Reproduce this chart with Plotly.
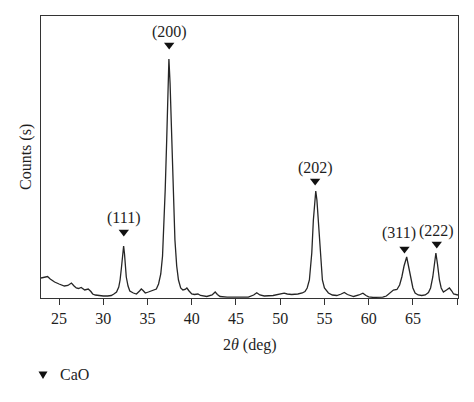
import plotly.graph_objects as go

# XRD pattern (2theta in degrees, counts in arbitrary units)
two_theta = [22.96, 23.3, 23.7, 24.0, 24.5, 25.0, 25.6, 26.0, 26.4, 26.7, 26.95, 27.2, 27.5, 27.9,
             28.3, 28.6, 28.8, 29.1, 29.4, 30.0, 30.5, 30.9, 31.2, 31.5, 31.75, 31.9, 32.05, 32.2,
             32.3, 32.4, 32.5, 32.6, 32.8, 33.0, 33.4, 33.75, 34.1, 34.3, 34.5, 34.75, 35.1, 35.4,
             35.7, 36.0, 36.25, 36.5, 36.7, 36.85, 37.0, 37.17, 37.3, 37.42, 37.55, 37.74, 37.93,
             38.1, 38.3, 38.5, 38.75, 39.0, 39.25, 39.45, 39.7, 40.0, 40.3, 40.7, 41.0, 41.7, 42.3,
             42.65, 42.9, 43.2, 44.0, 45.0, 46.4, 47.0, 47.35, 47.7, 48.2, 49.2, 50.0, 50.45, 50.8,
             51.3, 52.0, 52.5, 52.8, 53.05, 53.3, 53.45, 53.57, 53.75, 53.9, 54.02, 54.15, 54.3,
             54.5, 54.65, 54.77, 55.0, 55.45, 55.9, 56.4, 56.9, 57.25, 57.6, 58.3, 58.9, 59.35,
             59.7, 60.0, 60.5, 61.6, 62.0, 62.4, 62.8, 63.2, 63.5, 63.75, 64.0, 64.3, 64.55, 64.8,
             65.0, 65.25, 65.6, 66.0, 66.4, 66.76, 67.0, 67.25, 67.45, 67.6, 67.78, 68.0, 68.2,
             68.45, 68.8, 69.13, 69.4, 69.6, 70.1]
counts = [20, 21, 21.5, 19, 16, 14, 12, 12.5, 15, 12, 10, 9.5, 10.5, 8,
          9, 6.5, 4, 3, 2.5, 2, 2, 2.5, 4, 6, 11, 18, 30, 46,
          52, 44, 30, 21, 12, 7, 5, 4, 7, 9, 7.5, 5, 6, 7,
          7.5, 9, 14, 24, 42, 70, 108, 158, 210, 239, 215, 158, 108,
          58, 32, 18, 10, 8, 8.5, 10, 7, 4, 3.5, 4, 2.5, 1.5, 3,
          6, 3.5, 1.5, 0.8, 0.5, 0.8, 3, 5.3, 3, 2, 2.5, 3.5, 4.8, 4,
          3.5, 4, 5, 6.5, 10, 18, 30, 45, 78, 100, 107, 98, 78,
          45, 28, 18, 10, 5, 3, 2.5, 4, 5.5, 3.5, 1.5, 3, 4.8,
          2.5, 1.2, 0.6, 0.8, 2, 4.7, 8, 8.5, 13, 21, 32, 41, 30, 18,
          10, 5, 3, 2.5, 3, 5.5, 10, 21, 38, 45, 34, 18, 10,
          6, 8, 10, 7, 4, 3]

# CaO reflection markers and labels
marker_x = [32.32, 37.45, 53.95, 64.05, 67.7]
marker_y = [66, 253, 117, 49, 54]
label_text = ["(111)", "(200)", "(202)", "(311)", "(222)"]
label_x = [32.27, 37.47, 53.95, 63.45, 67.63]
label_y = [80, 266, 130, 65, 67]

tick_vals = [25, 30, 35, 40, 45, 50, 55, 60, 65, 70]
tick_text = ["25", "30", "35", "40", "45", "50", "55", "60", "65", ""]
legend_label = "CaO"

FONT = "Liberation Serif"
INK = "#1e1e1e"

fig = go.Figure()
fig.add_trace(go.Scatter(x=two_theta, y=counts, mode="lines",
                         line=dict(color="#262626", width=1.3), showlegend=False,
                         hoverinfo="skip"))
fig.add_trace(go.Scatter(x=marker_x, y=marker_y, mode="markers", name=legend_label,
                         marker=dict(symbol="triangle-down", size=9, color="#111111"),
                         showlegend=False))

for t, x, y in zip(label_text, label_x, label_y):
    fig.add_annotation(x=x, y=y, text=t, showarrow=False, xanchor="center", yanchor="middle",
                       font=dict(family=FONT, size=16, color=INK))

fig.add_annotation(xref="paper", yref="paper", x=0, y=0.5, xshift=-15, text="Counts (s)",
                   textangle=-90, showarrow=False, xanchor="center", yanchor="middle",
                   font=dict(family=FONT, size=16, color=INK))
fig.add_annotation(xref="paper", yref="paper", x=0.5, y=0, yshift=-47, text="2<i>θ</i> (deg)",
                   showarrow=False, xanchor="center", yanchor="middle",
                   font=dict(family=FONT, size=16, color=INK))

# legend key: triangle symbol + label below the plot
fig.add_shape(type="path", xref="paper", yref="paper", xsizemode="pixel", ysizemode="pixel",
              xanchor=0.0048, yanchor=-0.273, path="M -4.5 3.5 L 4.5 3.5 L 0 -4 Z",
              fillcolor="#111111", line=dict(width=0))
fig.add_annotation(xref="paper", yref="paper", x=0.0408, y=-0.273, text=legend_label,
                   showarrow=False, xanchor="left", yanchor="middle",
                   font=dict(family=FONT, size=16, color=INK))

fig.update_layout(
    width=474, height=402,
    margin=dict(l=41, r=16, t=16, b=104),
    plot_bgcolor="white", paper_bgcolor="white",
    font=dict(family=FONT, size=15, color=INK),
    showlegend=False,
    xaxis=dict(range=[22.96, 70.1], tickvals=tick_vals, ticktext=tick_text,
               ticks="outside", ticklen=6, tickcolor="#333333", showline=True,
               linecolor="#333333", linewidth=1, mirror=True, showgrid=False, zeroline=False,
               tickfont=dict(family=FONT, size=16, color=INK)),
    yaxis=dict(range=[0, 282], showticklabels=False, ticks="", showline=True,
               linecolor="#333333", linewidth=1, mirror=True, showgrid=False, zeroline=False),
)

fig.write_html("out.html")
